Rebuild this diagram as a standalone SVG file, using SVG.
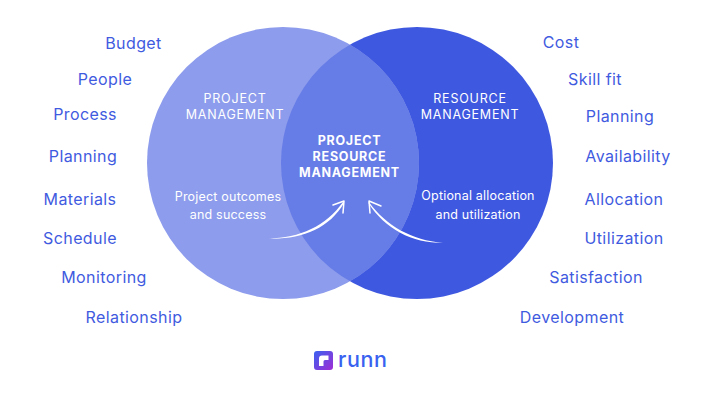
<svg xmlns="http://www.w3.org/2000/svg" width="715" height="402" viewBox="0 0 715 402">
<style>
text{font-family:"Inter","Liberation Sans",sans-serif}
.l{font-size:16px;fill:#3f5be0;text-anchor:middle;letter-spacing:.4px}
.w{font-size:12.500px;fill:#fff;text-anchor:middle;letter-spacing:.2px}
.h{font-size:12.500px;fill:#fff;text-anchor:middle;letter-spacing:.8px}
.b{font-size:12.500px;fill:#fff;text-anchor:middle;font-weight:700;letter-spacing:.75px}
.c{fill:none;stroke:#fff;stroke-width:1.500;stroke-linecap:round;stroke-linejoin:round}
.t{fill:#fff;stroke:none}
</style>
<defs>
<linearGradient id="g" x1="0" y1="0" x2="1" y2="1"><stop offset="0" stop-color="#3a62f0"/><stop offset="1" stop-color="#a02cd4"/></linearGradient>
<clipPath id="cl"><circle cx="283" cy="163" r="136"/></clipPath>
</defs>
<rect width="715" height="402" fill="#fff"/>
<g id="resource-circle"><circle cx="417" cy="163" r="136" fill="#3f58e0"/>
<text class="h" x="470" y="103">RESOURCE</text><text class="h" x="470" y="119">MANAGEMENT</text>
<text class="w" x="478" y="200">Optional allocation</text><text class="w" x="478" y="219">and utilization</text></g>
<g id="project-circle"><circle cx="283" cy="163" r="136" fill="#8d9cec"/>
<text class="h" x="235" y="103">PROJECT</text><text class="h" x="235" y="119">MANAGEMENT</text>
<text class="w" x="228" y="201">Project outcomes</text><text class="w" x="228" y="219">and success</text></g>
<g id="overlap"><circle cx="417" cy="163" r="136" fill="#667ce6" clip-path="url(#cl)"/>
<text class="b" x="349.500" y="145">PROJECT</text><text class="b" x="349.500" y="161">RESOURCE</text><text class="b" x="349.500" y="177">MANAGEMENT</text></g>
<g id="connectors">
<path class="t" d="M268 238.500C300 238 326 226 343 202L344 203C329 229 300 240 268 238.500Z"/>
<path class="c" d="M333 205L344 201L343 213"/>
<path class="t" d="M443 243C412 240 386 226 369 202L368.400 203C385 229 412 243 443 243Z"/>
<path class="c" d="M381 206L369 201L370 213"/>
</g>
<g id="left-labels">
<text class="l" x="133.500" y="49">Budget</text><text class="l" x="105" y="85">People</text><text class="l" x="85" y="120">Process</text><text class="l" x="83" y="161.500">Planning</text><text class="l" x="80" y="204.500">Materials</text><text class="l" x="80" y="244">Schedule</text><text class="l" x="104" y="282.500">Monitoring</text><text class="l" x="134" y="322.500">Relationship</text>
</g>
<g id="right-labels">
<text class="l" x="561" y="48">Cost</text><text class="l" x="595" y="84.500">Skill fit</text><text class="l" x="620" y="122">Planning</text><text class="l" x="628" y="161.500">Availability</text><text class="l" x="624" y="205">Allocation</text><text class="l" x="624" y="243.500">Utilization</text><text class="l" x="596" y="283">Satisfaction</text><text class="l" x="572" y="322.500">Development</text>
</g>
<g id="logo">
<rect x="314" y="351" width="19" height="19" rx="3" fill="url(#g)"/>
<path d="M319 366V358.500Q319 355.500 322 355.500H328.500V360H325Q323.500 360 323.500 361.500V366Z" fill="#fff"/>
<text x="338" y="367" font-size="21.500" font-weight="500" fill="#3a62f0" letter-spacing=".6">runn</text>
</g>
</svg>
